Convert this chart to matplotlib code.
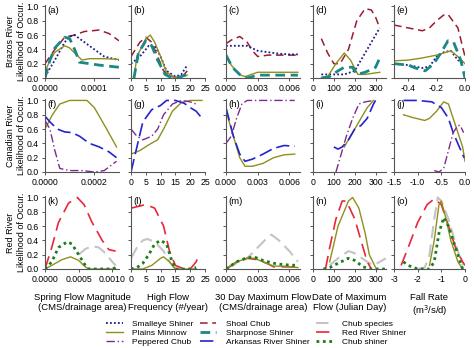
import matplotlib
matplotlib.use("Agg")
import matplotlib.pyplot as plt
from matplotlib.lines import Line2D

plt.rcParams['font.family'] = ['Liberation Sans', 'DejaVu Sans']
plt.rcParams['font.size'] = 6.5

# ---- Brazos River (row 1) ----
a_shoal = ([0, 0.00002, 0.00004, 0.00006, 0.00008, 0.00011, 0.00013, 0.00015],
           [0.2, 0.4, 0.57, 0.6, 0.65, 0.67, 0.62, 0.52])
a_smalleye = ([0, 0.00002, 0.00004, 0.00005, 0.00006, 0.00008, 0.0001, 0.00012, 0.00015],
              [0.02, 0.25, 0.5, 0.58, 0.6, 0.5, 0.4, 0.3, 0.25])
a_plains = ([0, 0.00001, 0.00002, 0.00004, 0.00005, 0.00006, 0.000075, 0.00009, 0.00012, 0.00015],
            [0.08, 0.25, 0.36, 0.45, 0.42, 0.35, 0.25, 0.27, 0.27, 0.26])
a_sharp = ([0, 0.00001, 0.00002, 0.00004, 0.00005, 0.00006, 0.00007, 0.00008, 0.00011, 0.00015],
           [0.0, 0.25, 0.42, 0.57, 0.55, 0.4, 0.22, 0.21, 0.18, 0.15])

b_shoal = ([0, 3, 5, 7, 9, 11, 14, 16, 18, 19],
           [0.3, 0.5, 0.57, 0.5, 0.3, 0.1, 0.02, 0.0, 0.05, 0.1])
b_smalleye = ([0, 3, 6, 8, 10, 12, 15, 17, 19],
              [0.2, 0.3, 0.45, 0.45, 0.3, 0.1, 0.02, 0.05, 0.18])
b_plains = ([1, 2, 5, 6.5, 8, 10, 12, 15, 17, 19],
            [0.0, 0.3, 0.55, 0.6, 0.5, 0.3, 0.08, 0.0, 0.02, 0.04])
b_sharp = ([1, 2.5, 5, 7, 9, 11.5, 14, 17, 19],
           [0.0, 0.35, 0.52, 0.45, 0.25, 0.05, 0.0, 0.02, 0.05])

c_shoal = ([0, 0.0005, 0.0013, 0.002, 0.0025, 0.003, 0.004, 0.005, 0.0068],
           [0.48, 0.53, 0.58, 0.5, 0.38, 0.3, 0.32, 0.32, 0.32])
c_smalleye = ([0, 0.001, 0.002, 0.003, 0.004, 0.005, 0.006, 0.0068],
              [0.45, 0.45, 0.45, 0.38, 0.36, 0.34, 0.33, 0.33])
c_plains = ([0, 0.0005, 0.0012, 0.0018, 0.003, 0.0068],
            [0.3, 0.18, 0.05, 0.02, 0.08, 0.08])
c_sharp = ([0, 0.0006, 0.0015, 0.002, 0.003, 0.0068],
           [0.32, 0.15, 0.02, 0.0, 0.04, 0.04])

d_shoal = ([40, 70, 100, 130, 170, 210, 250, 280, 300, 320],
           [0.55, 0.35, 0.2, 0.2, 0.4, 0.8, 0.97, 0.95, 0.85, 0.7])
d_smalleye = ([40, 100, 150, 200, 220, 260, 300, 320],
              [0.05, 0.05, 0.05, 0.1, 0.2, 0.4, 0.6, 0.7])
d_plains = ([40, 70, 110, 150, 180, 215, 250, 320],
            [0.0, 0.02, 0.2, 0.35, 0.25, 0.05, 0.05, 0.08])
d_sharp = ([40, 80, 120, 150, 190, 210, 250, 280, 300, 320],
           [0.0, 0.02, 0.1, 0.15, 0.15, 0.05, 0.08, 0.12, 0.15, 0.28])

e_shoal = ([-0.5, -0.4, -0.3, -0.25, -0.2, -0.15, -0.12, -0.05, 0.0],
           [0.74, 0.7, 0.66, 0.7, 0.8, 0.88, 0.89, 0.7, 0.3])
e_plains = ([-0.5, -0.4, -0.3, -0.2, -0.15, -0.1, -0.05, 0.0],
            [0.24, 0.25, 0.28, 0.32, 0.35, 0.38, 0.3, 0.2])
e_smalleye = ([-0.5, -0.4, -0.3, -0.25, -0.2, -0.15, -0.1, -0.05, 0.0],
              [0.2, 0.18, 0.14, 0.16, 0.3, 0.36, 0.38, 0.25, 0.2])
e_sharp = ([-0.5, -0.4, -0.35, -0.28, -0.22, -0.17, -0.12, -0.08, -0.03, 0.0],
           [0.2, 0.18, 0.14, 0.1, 0.2, 0.35, 0.52, 0.5, 0.25, 0.0])

# ---- Canadian River (row 2) ----
f_plains = ([0, 0.00003, 0.00006, 0.0001, 0.00017, 0.0002, 0.00025, 0.00029],
            [0.6, 0.8, 0.95, 1.0, 1.0, 0.9, 0.6, 0.35])
f_ars = ([0, 0.00002, 0.00005, 0.00008, 0.00011, 0.00014, 0.00018, 0.00022, 0.00026, 0.00029],
         [0.78, 0.7, 0.6, 0.56, 0.55, 0.5, 0.4, 0.35, 0.28, 0.2])
f_pepper = ([0, 0.00002, 0.00004, 0.00006, 0.0001, 0.00015, 0.0002, 0.00024, 0.00029],
            [0.72, 0.6, 0.3, 0.05, 0.02, 0.02, 0.0, 0.02, 0.15])

g_ars = ([0, 2, 4, 7, 10, 12, 15, 18, 20, 22, 24],
         [0.0, 0.35, 0.7, 0.87, 0.93, 1.0, 1.0, 0.96, 0.9, 0.85, 0.75])
g_pepper = ([0, 2, 4, 7, 9, 11, 14, 17, 20, 22],
            [0.6, 0.5, 0.45, 0.5, 0.6, 0.8, 0.95, 1.0, 0.98, 0.95])
g_plains = ([0, 3, 6, 9, 11, 14, 17, 20, 24],
            [0.25, 0.3, 0.38, 0.45, 0.6, 0.85, 0.97, 1.0, 1.0])

h_pepper = ([0, 0.0005, 0.001, 0.0015, 0.002, 0.004, 0.0065],
            [0.4, 0.5, 0.75, 0.95, 1.0, 1.0, 1.0])
h_ars = ([0, 0.0007, 0.0013, 0.0018, 0.0025, 0.0035, 0.0045, 0.0055, 0.0065],
         [0.9, 0.5, 0.25, 0.15, 0.18, 0.25, 0.33, 0.37, 0.36])
h_plains = ([0, 0.0007, 0.0013, 0.0018, 0.0025, 0.0035, 0.0045, 0.0055, 0.0065],
            [0.85, 0.5, 0.2, 0.08, 0.08, 0.12, 0.2, 0.24, 0.25])

i_pepper = ([110, 130, 160, 190, 220, 250, 290],
            [0.0, 0.2, 0.5, 0.75, 0.95, 0.98, 1.0])
i_plains = ([150, 170, 200, 230, 260, 290],
            [0.35, 0.45, 0.6, 0.75, 0.9, 1.0])
i_ars = ([100, 120, 140, 170, 200, 230, 260, 290, 300],
         [0.35, 0.32, 0.35, 0.45, 0.6, 0.65, 0.75, 0.95, 1.0])

j_ars = ([-1.3, -1.0, -0.7, -0.5, -0.35, -0.25, -0.12, -0.02],
         [1.0, 1.0, 0.98, 0.9, 0.75, 0.55, 0.35, 0.2])
j_plains = ([-1.3, -1.1, -0.85, -0.75, -0.6, -0.45, -0.35, -0.25, -0.15, -0.05, 0.0],
            [0.8, 0.76, 0.72, 0.75, 0.85, 0.98, 0.95, 0.75, 0.55, 0.35, 0.15])
j_pepper = ([-0.65, -0.55, -0.45, -0.35, -0.25, -0.15, -0.1, -0.03],
            [0.02, 0.0, 0.05, 0.3, 0.55, 0.65, 0.65, 0.55])

# ---- Red River (row 3) ----
k_rrs = ([0, 0.0001, 0.0002, 0.00035, 0.00048, 0.00058, 0.0007, 0.00085, 0.00095, 0.00105],
         [0.0, 0.3, 0.65, 0.92, 1.0, 0.9, 0.65, 0.4, 0.27, 0.25])
k_chubshiner = ([0, 0.0001, 0.0002, 0.00033, 0.0004, 0.0005, 0.0006, 0.00065, 0.001, 0.00105],
                [0.0, 0.1, 0.3, 0.38, 0.35, 0.2, 0.05, 0.0, 0.0, 0.02])
k_plains = ([0, 0.0001, 0.00025, 0.00038, 0.0005, 0.0006, 0.00065, 0.00105],
            [0.0, 0.05, 0.13, 0.17, 0.12, 0.03, 0.0, 0.0])
k_chubsp = ([0.0005, 0.0006, 0.0007, 0.0008, 0.0009, 0.001, 0.00105],
            [0.2, 0.28, 0.32, 0.3, 0.22, 0.1, 0.05])

l_rrs = ([0, 3, 5, 8, 11, 13, 15, 18, 20, 22, 23],
         [0.85, 0.88, 0.9, 0.85, 0.6, 0.25, 0.05, 0.0, 0.0, 0.1, 0.2])
l_chubsp = ([0, 2, 4, 5.5, 8, 11, 13, 15],
            [0.15, 0.3, 0.4, 0.42, 0.38, 0.25, 0.1, 0.0])
l_chubshiner = ([0, 2, 4, 6, 8, 10, 12, 13.5, 15, 20, 22],
                [0.0, 0.02, 0.08, 0.2, 0.35, 0.4, 0.35, 0.15, 0.0, 0.0, 0.02])
l_plains = ([0, 4, 7, 10, 11, 13, 15, 22],
            [0.0, 0.0, 0.05, 0.15, 0.17, 0.1, 0.0, 0.0])

m_chubsp = ([0, 0.001, 0.002, 0.003, 0.004, 0.0043, 0.005, 0.006, 0.0068],
            [0.0, 0.08, 0.15, 0.3, 0.45, 0.48, 0.4, 0.25, 0.1])
m_chubshiner = ([0, 0.001, 0.002, 0.0028, 0.0035, 0.0045, 0.0055, 0.0068],
                [0.0, 0.1, 0.16, 0.16, 0.12, 0.08, 0.06, 0.05])
m_plains = ([0, 0.001, 0.002, 0.0027, 0.0035, 0.0045, 0.0055, 0.0068],
            [0.0, 0.1, 0.15, 0.15, 0.1, 0.04, 0.04, 0.02])
m_rrs = ([0, 0.001, 0.002, 0.003, 0.004, 0.0045, 0.006, 0.0068],
         [0.0, 0.1, 0.15, 0.13, 0.07, 0.03, 0.03, 0.03])

n_rrs = ([60, 80, 110, 140, 160, 200, 230, 260, 280],
         [0.0, 0.3, 0.7, 0.95, 0.95, 0.7, 0.4, 0.1, 0.0])
n_plains = ([80, 120, 170, 190, 220, 250, 270, 300],
            [0.1, 0.6, 0.95, 1.0, 0.85, 0.5, 0.2, 0.02])
n_chubsp = ([80, 120, 170, 200, 260, 290, 320, 350],
            [0.05, 0.15, 0.25, 0.22, 0.1, 0.05, 0.1, 0.15])
n_chubshiner = ([50, 80, 120, 170, 200, 240, 280, 350],
                [0.0, 0.02, 0.08, 0.15, 0.12, 0.03, 0.0, 0.0])

o_rrs = ([-2.7, -2.4, -2.0, -1.6, -1.3, -1.0, -0.7, -0.4, -0.1, 0.0],
         [0.05, 0.3, 0.65, 0.9, 0.98, 0.9, 0.6, 0.3, 0.1, 0.05])
o_chubsp = ([-2.0, -1.7, -1.5, -1.3, -1.15, -1.0, -0.7, -0.4, -0.1],
            [0.0, 0.02, 0.2, 0.7, 1.0, 0.95, 0.7, 0.35, 0.05])
o_plains = ([-1.5, -1.3, -1.1, -1.0, -0.8, -0.6, -0.3, -0.1],
            [0.05, 0.4, 0.9, 0.95, 0.7, 0.4, 0.1, 0.0])
o_chubshiner = ([-2.6, -2.4, -2.0, -1.5, -1.3, -1.1, -0.9, -0.7, -0.4, -0.1],
                [0.1, 0.05, 0.0, 0.0, 0.1, 0.5, 0.72, 0.6, 0.3, 0.0])

# line styles for each species
styles = {
    "Smalleye Shiner": dict(color="#1c1c8a", ls=(0, (1, 1.2)), lw=1.3),
    "Plains Minnow": dict(color="#8f8f1e", ls="-", lw=1.0),
    "Peppered Chub": dict(color="#7d2a92", ls=(0, (6, 2, 1, 2)), lw=1.0),
    "Shoal Chub": dict(color="#9a1c32", ls=(0, (5, 3)), lw=1.1),
    "Sharpnose Shiner": dict(color="#1b8787", ls=(0, (3.5, 2)), lw=2.0),
    "Arkansas River Shiner": dict(color="#2424d0", ls=(0, (8, 3)), lw=1.2),
    "Chub species": dict(color="#c4c4c4", ls=(0, (6, 3)), lw=1.5),
    "Red River Shiner": dict(color="#e8283a", ls=(0, (8, 4)), lw=1.2),
    "Chub shiner": dict(color="#1b7d1b", ls=(0, (1, 1.3)), lw=2.0),
}

panels = [
    ("a", [("Shoal Chub", a_shoal), ("Smalleye Shiner", a_smalleye), ("Plains Minnow", a_plains), ("Sharpnose Shiner", a_sharp)]),
    ("b", [("Shoal Chub", b_shoal), ("Smalleye Shiner", b_smalleye), ("Plains Minnow", b_plains), ("Sharpnose Shiner", b_sharp)]),
    ("c", [("Shoal Chub", c_shoal), ("Smalleye Shiner", c_smalleye), ("Plains Minnow", c_plains), ("Sharpnose Shiner", c_sharp)]),
    ("d", [("Shoal Chub", d_shoal), ("Smalleye Shiner", d_smalleye), ("Plains Minnow", d_plains), ("Sharpnose Shiner", d_sharp)]),
    ("e", [("Shoal Chub", e_shoal), ("Smalleye Shiner", e_smalleye), ("Plains Minnow", e_plains), ("Sharpnose Shiner", e_sharp)]),
    ("f", [("Plains Minnow", f_plains), ("Arkansas River Shiner", f_ars), ("Peppered Chub", f_pepper)]),
    ("g", [("Plains Minnow", g_plains), ("Arkansas River Shiner", g_ars), ("Peppered Chub", g_pepper)]),
    ("h", [("Plains Minnow", h_plains), ("Arkansas River Shiner", h_ars), ("Peppered Chub", h_pepper)]),
    ("i", [("Plains Minnow", i_plains), ("Arkansas River Shiner", i_ars), ("Peppered Chub", i_pepper)]),
    ("j", [("Plains Minnow", j_plains), ("Arkansas River Shiner", j_ars), ("Peppered Chub", j_pepper)]),
    ("k", [("Chub species", k_chubsp), ("Red River Shiner", k_rrs), ("Plains Minnow", k_plains), ("Chub shiner", k_chubshiner)]),
    ("l", [("Chub species", l_chubsp), ("Red River Shiner", l_rrs), ("Plains Minnow", l_plains), ("Chub shiner", l_chubshiner)]),
    ("m", [("Chub species", m_chubsp), ("Red River Shiner", m_rrs), ("Plains Minnow", m_plains), ("Chub shiner", m_chubshiner)]),
    ("n", [("Chub species", n_chubsp), ("Red River Shiner", n_rrs), ("Plains Minnow", n_plains), ("Chub shiner", n_chubshiner)]),
    ("o", [("Chub species", o_chubsp), ("Red River Shiner", o_rrs), ("Plains Minnow", o_plains), ("Chub shiner", o_chubshiner)]),
]

# x axis: (xlim, ticks, labels)
xaxes = {
    "a": ((0, 0.00015), [0, 0.0001], ["0.0000", "0.0001"]),
    "f": ((0, 0.0003), [0, 0.0002], ["0.0000", "0.0002"]),
    "k": ((0, 0.0011), [0, 0.0005, 0.001], ["0.0000", "0.0005", "0.0010"]),
    "e": ((-0.5, 0), [-0.4, -0.2, 0.0], ["-0.4", "-0.2", "0.0"]),
    "j": ((-1.5, 0), [-1.5, -1.0, -0.5, 0.0], ["-1.5", "-1.0", "-0.5", "0.0"]),
    "o": ((-3, 0), [-3, -2, -1, 0], ["-3", "-2", "-1", "0"]),
}
col_x = [
    None,
    ((0, 25), [0, 5, 10, 15, 20, 25], ["0", "5", "10", "15", "20", "25"]),
    ((0, 0.007), [0, 0.003, 0.006], ["0.000", "0.003", "0.006"]),
    ((0, 350), [0, 100, 200, 300], ["0", "100", "200", "300"]),
    None,
]
row_labels = ["Brazos River\nLikelihood of Occur.",
              "Canadian River\nLikelihood of Occur.",
              "Red River\nLikelihood of Occur."]
x_labels = ["Spring Flow Magnitude\n(CMS/drainage area)",
            "High Flow\nFrequency (#/year)",
            "30 Day Maximum Flow\n(CMS/drainage area)",
            "Date of Maximum\nFlow (Julian Day)",
            "Fall Rate\n(m$^3$/s/d)"]

W, H = 474, 348
fig = plt.figure(figsize=(W / 100, H / 100), dpi=100)

col_left = [45, 131, 226, 313, 394]
col_w = [74, 74, 74, 73, 71]
row_top = [5, 99, 196]
row_h = 73

for idx, (letter, series) in enumerate(panels):
    r, c = divmod(idx, 5)
    ax = fig.add_axes([col_left[c] / W, 1 - (row_top[r] + row_h) / H, col_w[c] / W, row_h / H])
    for name, (xs, ys) in series:
        st = styles[name]
        ax.plot(xs, ys, color=st["color"], linestyle=st["ls"], linewidth=st["lw"])
    if letter in xaxes:
        lim, ticks, labs = xaxes[letter]
    else:
        lim, ticks, labs = col_x[c]
    ax.set_xlim(lim)
    ax.set_xticks(ticks)
    ax.set_xticklabels(labs)
    ax.set_ylim(0, 1.02)
    ax.set_yticks([0, 0.2, 0.4, 0.6, 0.8, 1.0])
    if c == 0:
        ax.set_yticklabels(["0.0", "0.2", "0.4", "0.6", "0.8", "1.0"])
        yc = 1 - (row_top[r] + row_h / 2) / H
        fig.text(16 / W, yc, row_labels[r], rotation=90, ha="center", va="center",
                 fontsize=6.5, linespacing=1.35, multialignment="center")
    else:
        ax.set_yticklabels([])
    for s in ["top", "right"]:
        ax.spines[s].set_visible(False)
    for s in ["left", "bottom"]:
        ax.spines[s].set_color("#555555")
        ax.spines[s].set_linewidth(0.8)
    ax.tick_params(length=2.5, width=0.7, color="#555555", labelsize=6.3, pad=2)
    ax.text(0.03, 0.99, "(%s)" % letter, transform=ax.transAxes, ha="left", va="top", fontsize=6.8)
    if r == 2:
        ax.set_xlabel(x_labels[c], fontsize=6.8, labelpad=6, linespacing=1.15)

# legend
order = ["Smalleye Shiner", "Plains Minnow", "Peppered Chub",
         "Shoal Chub", "Sharpnose Shiner", "Arkansas River Shiner",
         "Chub species", "Red River Shiner", "Chub shiner"]
handles = [Line2D([], [], color=styles[n]["color"], linestyle=styles[n]["ls"], linewidth=styles[n]["lw"])
           for n in order]
fig.legend(handles, order, ncol=3, loc="center", bbox_to_anchor=(256 / W, 1 - 333 / H),
           frameon=False, fontsize=6.0, handlelength=2.0, handletextpad=1.1,
           columnspacing=0.8, labelspacing=0.12, borderpad=0)

fig.savefig("out.png", dpi=100)
